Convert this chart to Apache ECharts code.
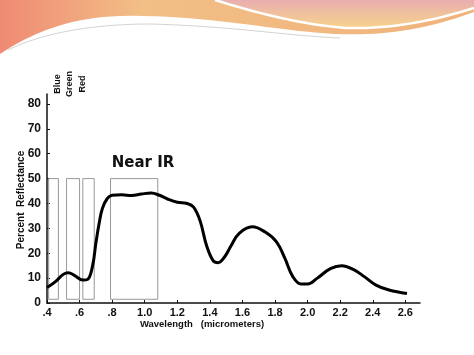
<!DOCTYPE html>
<html><head><meta charset="utf-8">
<script src="https://cdn.jsdelivr.net/npm/echarts@6/dist/echarts.min.js"></script>
<style>html,body{margin:0;padding:0;background:#fff}#c{width:474px;height:355px}</style>
</head><body><div id="c"></div>
<script>
// Spectral reflectance curve (wavelength µm, percent reflectance)
var wavelengths = [0.40,0.45,0.50,0.53,0.57,0.62,0.65,0.68,0.70,0.72,0.74,0.77,0.80,0.86,0.92,0.98,1.04,1.09,1.14,1.20,1.26,1.30,1.34,1.38,1.42,1.45,1.49,1.53,1.58,1.66,1.74,1.81,1.86,1.91,1.96,2.00,2.06,2.14,2.21,2.28,2.35,2.42,2.50,2.61];
var reflectance = [6.2,8.5,11.5,12.2,11,9.2,9.5,15,24,32,38,42,43.3,43.5,43.2,43.8,44.2,43.3,41.8,40.5,40,38.5,33,23,17,16.2,18.5,23,28,30.6,28.5,24.5,18,10.5,7.6,7.6,10,13.8,15,13.5,10.5,7.2,5.2,3.8];
// Band boxes
var bandNames = ['Blue','Green','Red','Near IR'];
var bandStart = [0.41,0.52,0.62,0.79];
var bandEnd = [0.47,0.60,0.69,1.08];
var bandLow = 1.5, bandHigh = 50;
// Ticks
var xTicks = [0.4,0.6,0.8,1.0,1.2,1.4,1.6,1.8,2.0,2.2,2.4,2.6];
var yTicks = [0,10,20,30,40,50,60,70,80];

var chart = echarts.init(document.getElementById('c'));
var pts = wavelengths.map(function(w,i){return [w, reflectance[i]];});
var areas = bandStart.map(function(s,i){return [{xAxis:s,yAxis:bandLow},{xAxis:bandEnd[i],yAxis:bandHigh}];});
var font = '"Liberation Sans", Arial, sans-serif';
function lin(x2,y2,stops){return {type:'linear',x:0,y:0,x2:x2,y2:y2,colorStops:stops};}
// sample a chain of cubic segments [p0, c1, c2, p1, c1, c2, p2 ...] into points
function bez(seq){
  var out=[seq[0]];
  for(var k=0;k+3<seq.length;k+=3){
    var a=seq[k],b=seq[k+1],c=seq[k+2],d=seq[k+3];
    for(var i=1;i<=20;i++){var t=i/20,u=1-t;
      out.push([u*u*u*a[0]+3*u*u*t*b[0]+3*u*t*t*c[0]+t*t*t*d[0],u*u*u*a[1]+3*u*u*t*b[1]+3*u*t*t*c[1]+t*t*t*d[1]]);}
  }
  return out;
}
var orangeEdge = bez([[474,12],[430,28],[390,36],[335,34],[270,30],[200,14],[120,16],[60,18],[25,38],[0,54]]);
var orangePoly = [[0,0],[474,0]].concat(orangeEdge);
var pinkEdge = bez([[474,8],[430,22],[390,29],[345,28],[300,24],[260,14],[215,0]]);
var pinkPoly = [[474,0]].concat(pinkEdge);
var grayLine = bez([[8,50],[40,34],[90,24],[150,24],[230,26],[290,36],[340,38]]);

chart.setOption({
  animation:false,
  backgroundColor:'#fff',
  grid:{left:47,right:54,top:94,bottom:52},
  xAxis:{type:'value',min:0.4,max:2.69,
    axisLine:{lineStyle:{color:'#111',width:1.5}},
    axisTick:{inside:true,length:3,customValues:xTicks,lineStyle:{color:'#111'}},
    splitLine:{show:false},
    axisLabel:{customValues:xTicks,color:'#111',fontFamily:font,fontWeight:'bold',fontSize:11,margin:4,
      formatter:function(v){return v<1 ? '.'+Math.round(v*10) : v.toFixed(1);}}
  },
  yAxis:{type:'value',min:0,max:84,
    axisLine:{show:true,lineStyle:{color:'#111',width:1.5}},
    axisTick:{show:true,inside:true,length:3,customValues:yTicks,lineStyle:{color:'#111'}},
    splitLine:{show:false},
    axisLabel:{customValues:yTicks,color:'#111',fontFamily:font,fontWeight:'bold',fontSize:12,margin:6}
  },
  series:[{
    type:'line',data:pts,smooth:0.4,symbol:'none',
    lineStyle:{color:'#000',width:3},
    markArea:{silent:true,itemStyle:{color:'rgba(0,0,0,0)',borderColor:'#999',borderWidth:1},label:{show:false},data:areas}
  }],
  graphic:[
    {type:'polygon',silent:true,z:-1,shape:{points:orangePoly},
      style:{fill:lin(1,0,[{offset:0,color:'#ef8a74'},{offset:0.3,color:'#f2bf86'},{offset:1,color:'#f0b27a'}])}},
    {type:'polygon',silent:true,z:-1,shape:{points:pinkPoly},
      style:{fill:lin(0,1,[{offset:0,color:'#e8aeb0'},{offset:1,color:'#f6d38a'}])}},
    {type:'polyline',silent:true,z:-1,shape:{points:pinkEdge},style:{fill:null,stroke:'#fff',lineWidth:2.5}},
    {type:'polyline',silent:true,z:-1,shape:{points:grayLine},style:{fill:null,stroke:'#c8c8c8',lineWidth:0.8}},
    {type:'text',x:21,y:200,rotation:Math.PI/2,style:{text:'Percent  Reflectance',fontFamily:font,fontWeight:'bold',fontSize:10,fill:'#111',align:'center',verticalAlign:'middle'}},
    {type:'text',x:202,y:324,style:{text:'Wavelength   (micrometers)',fontFamily:font,fontWeight:'bold',fontSize:9.5,fill:'#111',align:'center',verticalAlign:'middle'}},
    {type:'text',x:58,y:84,rotation:Math.PI/2,style:{text:bandNames[0],fontFamily:font,fontWeight:'bold',fontSize:9,fill:'#111',align:'center',verticalAlign:'middle'}},
    {type:'text',x:70,y:84,rotation:Math.PI/2,style:{text:bandNames[1],fontFamily:font,fontWeight:'bold',fontSize:9,fill:'#111',align:'center',verticalAlign:'middle'}},
    {type:'text',x:83,y:84,rotation:Math.PI/2,style:{text:bandNames[2],fontFamily:font,fontWeight:'bold',fontSize:9,fill:'#111',align:'center',verticalAlign:'middle'}},
    {type:'text',x:143,y:163,style:{text:bandNames[3],fontFamily:'"DejaVu Sans", Verdana, sans-serif',fontWeight:'bold',fontSize:15,fill:'#111',align:'center',verticalAlign:'middle'}}
  ]
});
</script></body></html>
